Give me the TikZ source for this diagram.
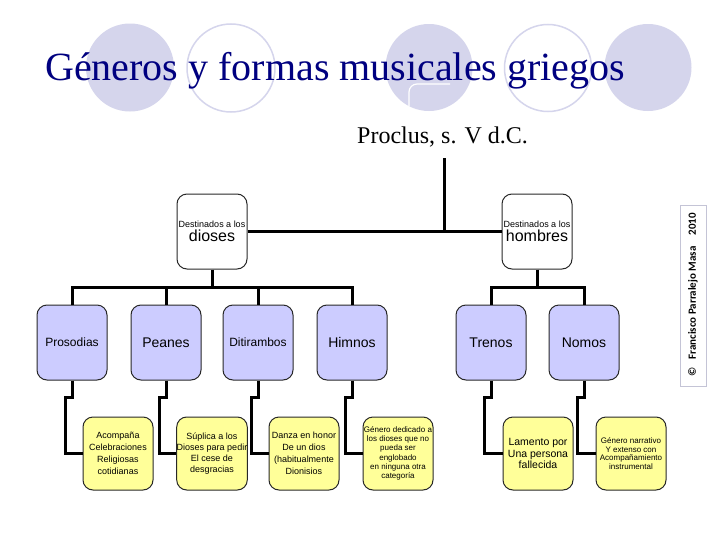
\documentclass[tikz,border=0pt]{standalone}
\usepackage{fontspec}
\setmainfont{Liberation Serif}
\setsansfont{Liberation Sans}
\newfontfamily\carl{Carlito}
\definecolor{lav}{RGB}{213,213,236}
\definecolor{boxlav}{RGB}{204,204,255}
\definecolor{boxyel}{RGB}{255,255,153}
\definecolor{navy}{RGB}{0,0,128}
\definecolor{bord}{RGB}{40,40,40}
\tikzset{
  conn/.style={line width=3pt, black},
  topbox/.style={draw=bord, line width=1pt, rounded corners=10pt, fill=white,
     minimum width=70pt, minimum height=75pt, inner sep=0pt, align=center},
  midbox/.style={draw=bord, line width=1pt, rounded corners=10pt, fill=boxlav,
     minimum width=70pt, minimum height=75pt, inner sep=0pt, align=center, font=\sffamily},
  lowbox/.style={draw=bord, line width=1pt, rounded corners=10pt, fill=boxyel,
     minimum width=70pt, minimum height=73pt, inner sep=0pt, align=center, font=\sffamily},
}
\begin{document}
\begin{tikzpicture}[x=1pt,y=-1pt]
\fill[white] (0,0) rectangle (728,546);
\useasboundingbox (0,0) rectangle (728,546);
% decorative circles
\fill[lav] (130,67.5) circle[radius=44];
\fill[lav] (429,67.5) circle[radius=43.5];
\fill[lav] (648,67.5) circle[radius=43.5];
\draw[lav, line width=1.5pt] (231,68) circle[radius=44];
\draw[lav, line width=1.5pt] (548,68) circle[radius=43.5];
\begin{scope}
\clip (429,67.5) circle[radius=43.5];
\draw[white, line width=1.2pt, rounded corners=8pt] (409,115) -- (409,84) -- (450,84);
\end{scope}
% titles
\node[anchor=base west, inner sep=0pt, text=navy, font=\fontsize{40}{48}\selectfont] (title) at (45,80) {Géneros y formas musicales griegos};
\node[anchor=base west, inner sep=0pt, font=\fontsize{24}{28}\selectfont] (proclus) at (357,143) {Proclus, s. V d.C.};
\coordinate (top) at (444,158);
% level 1
\node[topbox] (dioses) at (212,231.5) {{\sffamily\fontsize{9}{10}\selectfont Destinados a los}\\[2pt]{\sffamily\fontsize{16}{18}\selectfont dioses}};
\node[topbox] (hombres) at (537,231.5) {{\sffamily\fontsize{9}{10}\selectfont Destinados a los}\\[2pt]{\sffamily\fontsize{16}{18}\selectfont hombres}};
% level 2
\node[midbox, font=\sffamily\fontsize{12}{14}\selectfont] (pro) at (72,342.5) {Prosodias};
\node[midbox, font=\sffamily\fontsize{14}{16}\selectfont] (pea) at (166,342.5) {Peanes};
\node[midbox, font=\sffamily\fontsize{12}{14}\selectfont] (dit) at (258,342.5) {Ditirambos};
\node[midbox, font=\sffamily\fontsize{14}{16}\selectfont] (him) at (352,342.5) {Himnos};
\node[midbox, font=\sffamily\fontsize{14}{16}\selectfont] (tre) at (491,342.5) {Trenos};
\node[midbox, font=\sffamily\fontsize{14}{16}\selectfont] (nom) at (584,342.5) {Nomos};
% level 3
\node[lowbox, font=\sffamily\fontsize{9}{12}\selectfont] (aco) at (118,453.5) {Acompaña\\Celebraciones\\Religiosas\\cotidianas};
\node[lowbox, font=\sffamily\fontsize{9}{11}\selectfont] (sup) at (212,453.5) {Súplica a los\\Dioses para pedir\\El cese de\\desgracias};
\node[lowbox, font=\sffamily\fontsize{9}{12}\selectfont] (dan) at (304,453.5) {Danza en honor\\De un dios\\(habitualmente\\Dionisios};
\node[lowbox, font=\sffamily\fontsize{8}{9.3}\selectfont] (gen) at (398,453.5) {Género dedicado a\\los dioses que no\\pueda ser\\englobado\\en ninguna otra\\categoría};
\node[lowbox, font=\sffamily\fontsize{10.5}{11.5}\selectfont] (lam) at (538,453.5) {Lamento por\\Una persona\\fallecida};
\node[lowbox, font=\sffamily\fontsize{8}{8.6}\selectfont] (nar) at (631,453.5) {Género narrativo\\Y extenso con\\Acompañamiento\\instrumental};
% copyright
\draw[lav!80!gray, line width=1pt] (680,205) rectangle (706,386);
\node[rotate=90, font=\carl\bfseries\fontsize{11}{12}\selectfont, inner sep=0pt] (copy) at (693,295) {©\hspace{8pt}Francisco Parralejo Masa\hspace{11pt}2010};
% connectors
\draw[conn] (dioses.east) -- (hombres.west);
\draw[conn] (top) -- (top |- dioses.east);
\draw[conn] (dioses.south) -- ++(0,18) coordinate (bd);
\draw[conn] (pro.north) |- (bd) -| (him.north);
\draw[conn] (pea.north) -- (pea.north |- bd);
\draw[conn] (dit.north) -- (dit.north |- bd);
\draw[conn] (hombres.south) -- ++(0,18) coordinate (bh);
\draw[conn] (tre.north) |- (bh) -| (nom.north);
\foreach \a/\b in {pro/aco, pea/sup, dit/dan, him/gen, tre/lam, nom/nar}{
  \draw[conn] (\a.south) -- ++(0,17) -- ++(-7,0) |- (\b.west);
}
\end{tikzpicture}
\end{document}
